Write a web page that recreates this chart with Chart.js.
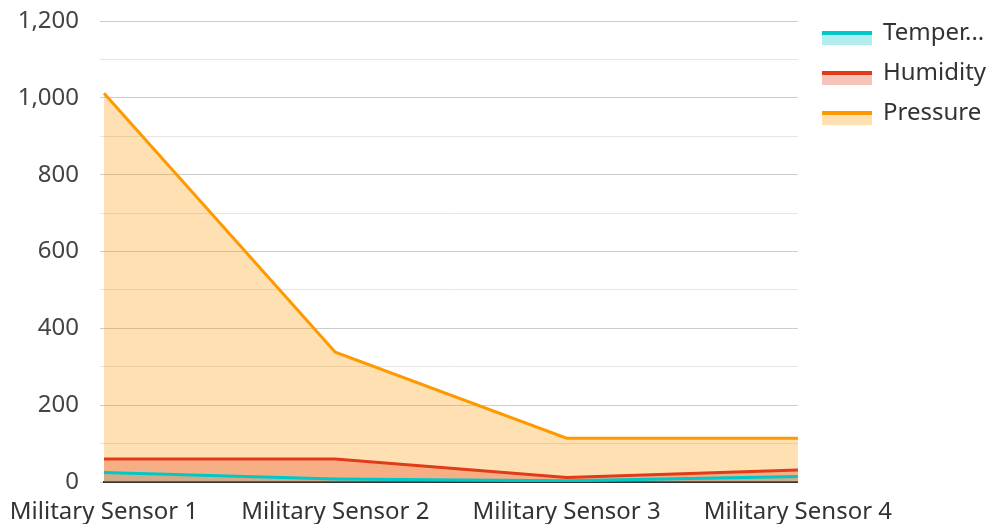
<!DOCTYPE html>
<html>
<head>
<meta charset="utf-8">
<script src="https://cdn.jsdelivr.net/npm/chart.js@4/dist/chart.umd.min.js"></script>
<style>
  html, body { margin: 0; padding: 0; background: #fff; }
</style>
</head>
<body>
<canvas id="myChart" width="989" height="524"></canvas>
<script>
const ctx = document.getElementById('myChart');

const labels = ['Military Sensor 1', 'Military Sensor 2', 'Military Sensor 3', 'Military Sensor 4'];
const temperature = [25, 8, 3, 14];
const humidity = [60, 60, 12, 31];
const pressure = [1012, 338, 114, 114];
const seriesNames = ['Temperature', 'Humidity', 'Pressure'];
const legendNames = ['Temper...', 'Humidity', 'Pressure'];
const lineColors = ['#00c8c8', '#e03c1a', '#ff9900'];
const fillColors = ['rgba(0,150,150,0.15)', 'rgba(224,60,26,0.3)', 'rgba(255,153,0,0.3)'];
const swatchFills = ['rgba(0,200,200,0.3)', 'rgba(224,60,26,0.3)', 'rgba(255,153,0,0.3)'];

// little legend swatch: thick line on top, light fill below (sits a bit under the text centre)
function swatch(line, fill) {
  const c = document.createElement('canvas');
  c.width = 50;
  c.height = 24;
  const g = c.getContext('2d');
  g.fillStyle = fill;
  g.fillRect(0, 13, 50, 11);
  g.fillStyle = line;
  g.fillRect(0, 10, 50, 4);
  return c;
}
const swatches = lineColors.map((c, i) => swatch(c, swatchFills[i]));

const data = {
  labels: labels,
  datasets: [temperature, humidity, pressure].map((values, i) => ({
    label: seriesNames[i],
    data: values,
    borderColor: lineColors[i],
    backgroundColor: fillColors[i],
    borderWidth: 3,
    fill: 'origin',
    pointRadius: 0,
    tension: 0
  }))
};

// nudge the legend to where the original puts it
const legendSpot = {
  id: 'legendSpot',
  afterLayout(chart) {
    chart.legend.left = 807;
    chart.legend.top = 5;
  }
};

new Chart(ctx, {
  type: 'line',
  data: data,
  plugins: [legendSpot],
  options: {
    responsive: false,
    animation: false,
    layout: { padding: { top: 0, right: 2, bottom: 0, left: 0 } },
    plugins: {
      tooltip: { enabled: false },
      legend: {
        position: 'right',
        align: 'start',
        labels: {
          usePointStyle: true,
          pointStyleWidth: 48,
          boxHeight: 14,
          padding: 16,
          color: '#333',
          font: { family: "'Noto Sans', sans-serif", size: 24 },
          generateLabels: chart => chart.data.datasets.map((ds, i) => ({
            text: legendNames[i],
            pointStyle: swatches[i],
            fillStyle: swatchFills[i],
            strokeStyle: lineColors[i],
            lineWidth: 0,
            hidden: false,
            datasetIndex: i,
            fontColor: '#333'
          }))
        }
      }
    },
    scales: {
      x: {
        offset: false,
        afterFit: scale => {
          scale.height = 42;
          scale.paddingLeft = 0;
          scale.paddingRight = 0;
        },
        grid: { display: false },
        border: { display: true, color: '#333', width: 2 },
        ticks: {
          color: '#333',
          padding: 8,
          maxRotation: 0,
          font: { family: "'Noto Sans', sans-serif", size: 24 }
        }
      },
      y: {
        min: 0,
        max: 1200,
        border: { display: false },
        afterFit: scale => {
          scale.paddingTop = 21;
          scale.width = 104;
        },
        grid: {
          color: c => (c.tick && c.tick.value % 200 === 0) ? '#cccccc' : '#e6e6e6',
          tickLength: 4
        },
        ticks: {
          stepSize: 100,
          autoSkip: false,
          color: '#444',
          padding: 21,
          font: { family: "'Noto Sans', sans-serif", size: 24 },
          callback: v => v % 200 === 0 ? v.toLocaleString('en-US') : ''
        }
      }
    }
  }
});
</script>
</body>
</html>
